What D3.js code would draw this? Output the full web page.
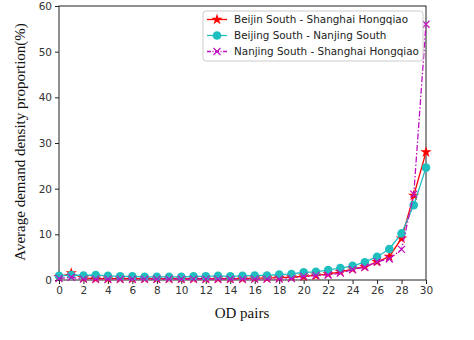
<!DOCTYPE html>
<html><head><meta charset="utf-8">
<script src="https://cdn.jsdelivr.net/npm/d3@7"></script>
<style>body{margin:0;background:#fff}svg{display:block}</style>
</head><body>
<svg id="c" width="474" height="340"></svg>
<script>
const odPairs = d3.range(0, 31);
const seriesNames = ["Beijin South - Shanghai Hongqiao", "Beijing South - Nanjing South", "Nanjing South - Shanghai Hongqiao"];
const bjshValues = [0.7,1.5,0.4,0.3,0.3,0.3,0.3,0.3,0.3,0.3,0.3,0.3,0.3,0.3,0.3,0.3,0.4,0.4,0.5,0.6,0.8,1.0,1.3,1.8,2.4,2.9,4.0,5.1,9.1,18.5,28.0];
const bjnjValues = [0.9,1.1,1.0,1.1,0.9,0.8,0.8,0.7,0.7,0.7,0.7,0.8,0.8,0.9,0.8,0.9,1.0,1.0,1.2,1.3,1.7,1.8,2.2,2.6,3.1,3.9,5.1,6.8,10.2,16.4,24.6];
const njshValues = [0.3,0.6,0.2,0.2,0.2,0.2,0.2,0.2,0.2,0.2,0.2,0.2,0.2,0.2,0.2,0.2,0.2,0.2,0.2,0.3,0.8,1.0,1.1,1.5,2.3,2.8,4.0,4.6,6.7,18.8,56.0];
const xTicks = d3.range(0, 31, 2);
const yTicks = [0,10,20,30,40,50,60];

const svg = d3.select("#c");
const m = {l:59, r:426, t:6, b:280};
const x = d3.scaleLinear().domain([0,30]).range([m.l, m.r]);
const y = d3.scaleLinear().domain([0,60]).range([m.b, m.t]);

const g = svg.append("g");
g.append("rect").attr("x", m.l).attr("y", m.t).attr("width", m.r-m.l).attr("height", m.b-m.t)
  .attr("fill","none").attr("stroke","#222").attr("stroke-width",1);

const xa = g.append("g").attr("transform",`translate(0,${m.b})`)
  .call(d3.axisBottom(x).tickValues(xTicks).tickSize(4).tickPadding(3));
const ya = g.append("g").attr("transform",`translate(${m.l},0)`)
  .call(d3.axisLeft(y).tickValues(yTicks).tickSize(4).tickPadding(3));
[xa, ya].forEach(a => {
  a.select(".domain").remove();
  a.selectAll("line").attr("stroke","#222");
  a.selectAll("text").attr("font-family","DejaVu Sans").attr("font-size","10.5px").attr("fill","#333");
});

const series = [
  {name: seriesNames[0], vals: bjshValues, color:"#ff0000", marker:"star", dash:null},
  {name: seriesNames[1], vals: bjnjValues, color:"#1fbfbf", marker:"circle", dash:null},
  {name: seriesNames[2], vals: njshValues, color:"#c010c0", marker:"x", dash:"6,2,1.5,2"},
];
const line = d3.line().x((d,i)=>x(odPairs[i])).y(d=>y(d));
const star = d3.symbol().type(d3.symbolStar).size(40);
function drawMarker(sel, s, cx, cy) {
  if (s.marker === "circle") {
    sel.append("circle").attr("cx",cx).attr("cy",cy).attr("r",4.3).attr("fill",s.color);
  } else if (s.marker === "star") {
    sel.append("path").attr("d", star()).attr("transform",`translate(${cx},${cy})`).attr("fill",s.color);
  } else {
    const r = 3.5;
    sel.append("path").attr("d",`M${cx-r},${cy-r}L${cx+r},${cy+r}M${cx-r},${cy+r}L${cx+r},${cy-r}`)
      .attr("stroke",s.color).attr("stroke-width",1.2);
  }
}
series.forEach(s => {
  const sg = g.append("g");
  sg.append("path").datum(s.vals).attr("d", line).attr("fill","none")
    .attr("stroke", s.color).attr("stroke-width", 1.3)
    .attr("stroke-dasharray", s.dash);
  s.vals.forEach((v,i) => drawMarker(sg, s, x(odPairs[i]), y(v)));
});

// legend
const lg = g.append("g");
lg.append("rect").attr("x",203).attr("y",11).attr("width",220).attr("height",50).attr("rx",3)
  .attr("fill","#fff").attr("fill-opacity",0.85).attr("stroke","#ccc");
series.forEach((s,i) => {
  const ly = 19.5 + i*16;
  lg.append("line").attr("x1",207).attr("x2",227).attr("y1",ly).attr("y2",ly)
    .attr("stroke",s.color).attr("stroke-width",1.3).attr("stroke-dasharray", s.dash ? "4,1.5,1,1.5" : null);
  drawMarker(lg, s, 217, ly);
  lg.append("text").attr("x",234).attr("y",ly+3.8).text(s.name)
    .attr("font-family","DejaVu Sans").attr("font-size","10.4px").attr("fill","#222");
});

svg.append("text").attr("x",242).attr("y",318).attr("text-anchor","middle")
  .attr("font-family","Liberation Serif").attr("font-size","15px").attr("fill","#111").text("OD pairs");
svg.append("text").attr("transform","translate(25,142) rotate(-90)").attr("text-anchor","middle")
  .attr("font-family","Liberation Serif").attr("font-size","15px").attr("fill","#111")
  .text("Average demand density proportion(%)");
</script>
</body></html>
